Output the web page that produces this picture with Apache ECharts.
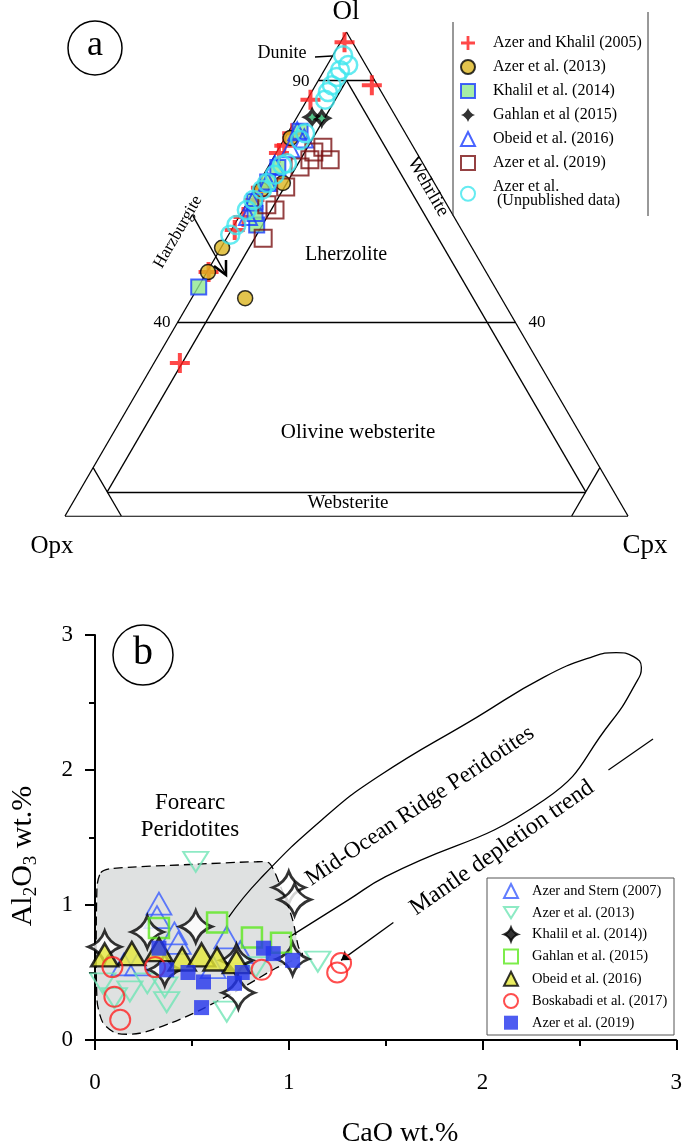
<!DOCTYPE html>
<html><head><meta charset="utf-8">
<script src="https://cdn.jsdelivr.net/npm/echarts@6/dist/echarts.min.js"></script>
<style>html,body{margin:0;padding:0;background:#fff}#c{width:685px;height:1147px}</style>
</head><body><div id="c"></div>
<script>
// ---------- Panel a : modal compositions [Ol %, Cpx %] (Opx = 100 - Ol - Cpx)
const azerKhalil2005 = [[97.9,0.7],[89.0,10.0],[86.0,0.6],[79.1,0.8],[76.5,0.7],[75.0,0.5],[67.8,0.9],[65.3,1.0],[61.8,0.8],[59.1,0.6],[50.4,0.3],[31.6,4.6]];
const azer2013a = [[55.4,0.2],[50.4,0.2],[68.8,4.3],[45.0,9.5],[78.1,1.0],[67.4,1.2]];
const khalil2014a = [[47.3,0.1],[60.1,4.0],[72.0,1.8],[69.0,1.5],[65.0,1.2],[62.5,2.5],[79.5,2.0]];
const gahlan2015a = [[82.4,2.7],[82.2,4.5]];
const obeid2016a = [[79.5,1.5],[78.0,3.5],[72.5,1.0],[69.0,1.5],[65.0,0.8],[62.0,1.5],[76.0,2.0]];
const azer2019a = [[76.2,7.7],[73.6,10.3],[73.6,6.7],[72.1,5.7],[75.2,6.6],[63.2,5.7],[64.3,3.7],[57.4,6.5],[68.0,5.2]];
const unpublished = [[95.2,1.8],[93.2,3.7],[92.1,2.8],[90.7,2.9],[89.0,2.9],[87.6,2.9],[86.0,3.2],[79.1,3.1],[77.7,2.9],[72.9,3.0],[72.5,2.3],[70.5,2.0],[68.8,1.5],[67.4,1.3],[65.3,0.8],[63.2,0.7],[60.1,0.4],[58.1,0.3]];
// ternary field boundaries [Ol, Opx, Cpx]
const ternaryBoundaries = [
  [[100,0,0],[0,100,0]],[[0,100,0],[0,0,100]],[[0,0,100],[100,0,0]],
  [[90,10,0],[90,0,10]],[[90,5,5],[5,90,5]],[[90,5,5],[5,5,90]],
  [[40,60,0],[40,0,60]],[[5,90,5],[5,5,90]],[[10,90,0],[0,90,10]],[[10,0,90],[0,10,90]]
];
// ---------- Panel b : [CaO wt.%, Al2O3 wt.%]
const azerStern2007 = [[0.33,1.01],[0.32,0.91],[0.41,0.79],[0.43,0.72],[0.68,0.76],[0.75,0.65],[0.22,0.56],[0.61,0.54],[0.15,0.56]];
const azer2013b = [[0.52,1.32],[0.04,0.42],[0.10,0.31],[0.18,0.36],[0.27,0.42],[0.36,0.39],[0.37,0.28],[0.68,0.21],[0.83,0.54],[1.15,0.58]];
const khalil2014b = [[0.05,0.69],[0.27,0.80],[0.52,0.84],[1.00,1.13],[1.03,1.04],[1.02,0.60],[0.74,0.35],[0.36,0.52],[0.73,0.59]];
const gahlan2015b = [[0.33,0.83],[0.63,0.87],[0.81,0.76],[0.96,0.72]];
const obeid2016b = [[0.19,0.64],[0.33,0.67],[0.45,0.60],[0.55,0.63],[0.63,0.60],[0.05,0.63],[0.73,0.58]];
const boskabadi2017 = [[0.09,0.54],[0.10,0.32],[0.13,0.15],[0.31,0.54],[0.86,0.52],[1.25,0.50],[1.27,0.57]];
const azer2019b = [[0.33,0.68],[0.48,0.50],[0.56,0.43],[0.55,0.24],[0.72,0.42],[0.76,0.50],[0.87,0.68],[0.92,0.64],[1.02,0.59],[0.37,0.52]];
// field outlines
const forearcField = [[0.03,1.24],[0.08,1.27],[0.49,1.30],[0.83,1.32],[0.90,1.31],[0.96,1.13],[1.02,0.89],[1.05,0.69],[1.07,0.63],[0.93,0.53],[0.74,0.37],[0.54,0.22],[0.40,0.13],[0.23,0.05],[0.11,0.05],[0.04,0.13],[0.01,0.30],[0.01,1.13]];
const morField = [[0.69,0.91],[0.85,1.19],[1.17,1.63],[1.46,1.95],[1.97,2.39],[2.32,2.69],[2.57,2.84],[2.69,2.87],[2.78,2.84],[2.82,2.76],[2.79,2.64],[2.66,2.35],[2.32,1.78],[1.50,1.21],[1.31,1.04],[1.00,0.76]];
const depletionTrend = [[[2.65,2.00],[2.88,2.23]],[[1.54,0.87],[1.27,0.59]]];
const xTicks = [0,1,2,3], yTicks = [0,1,2,3];

const S = Math.sqrt(3)/2;
const tern = (ol, cpx) => [cpx/100 + ol/200, ol/100*S];
const T = arr => arr.map(p => tern(p[0], p[1]));
const SERIF = 'Liberation Serif';
const STAR = 'path://M0,-10 Q2.6,-2.6 10,0 Q2.6,2.6 0,10 Q-2.6,2.6 -10,0 Q-2.6,-2.6 0,-10 Z';
const PLUS = 'path://M-2,-10 H2 V-2 H10 V2 H2 V10 H-2 V2 H-10 V-2 H-2 Z';
const DOWN_TRI = 'path://M-10,0 L10,0 L0,16 Z';

function sc(name, data, gi, symbol, size, style, extra){
  return Object.assign({type:'scatter', name, xAxisIndex:gi, yAxisIndex:gi, data, symbol, symbolSize:size, itemStyle:style, z:5, silent:true}, extra||{});
}

const series = [
  {type:'lines', coordinateSystem:'cartesian2d', xAxisIndex:0, yAxisIndex:0, polyline:false, silent:true, z:2,
   lineStyle:{color:'#000', width:1.3, opacity:1},
   data: ternaryBoundaries.map(s => ({coords: s.map(p => tern(p[0], p[2]))}))},
  sc('a:Azer and Khalil (2005)', T(azerKhalil2005), 0, PLUS, 20, {color:'#ff1a1a'}),
  sc('a:Azer et al. (2013)', T(azer2013a), 0, 'circle', 15, {color:'#dcb520', borderColor:'#000', borderWidth:1.5}),
  sc('a:Khalil et al. (2014)', T(khalil2014a), 0, 'rect', 15, {color:'#90e890', borderColor:'#1a3cff', borderWidth:2}),
  sc('a:Gahlan et al (2015)', T(gahlan2015a), 0, STAR, 22, {color:'#000'}),
  sc('gahlanCentre', T(gahlan2015a), 0, STAR, 8, {color:'#5ce8a0'}, {z:6}),
  sc('a:Obeid et al. (2016)', T(obeid2016a), 0, 'triangle', 18, {color:'transparent', borderColor:'#1a3cff', borderWidth:2}),
  sc('a:Azer et al. (2019)', T(azer2019a), 0, 'rect', 17, {color:'transparent', borderColor:'#7b1113', borderWidth:2}),
  sc('a:Azer et al.\n (Unpublished data)', T(unpublished), 0, 'circle', 18, {color:'transparent', borderColor:'#3fe6ee', borderWidth:2.5}),
  // panel b
  {type:'custom', xAxisIndex:1, yAxisIndex:1, silent:true, z:1, data:[[0,0]],
   renderItem:(params, api) => ({type:'polygon', shape:{points: forearcField.map(p => api.coord(p)), smooth:0.25},
     style:{fill:'#dfe1e1', stroke:'#000', lineWidth:1.3, lineDash:[9,5]}})},
  {type:'line', xAxisIndex:1, yAxisIndex:1, data:morField, smooth:0.5, symbol:'none', silent:true, z:2,
   lineStyle:{color:'#000', width:1.3}},
  {type:'lines', coordinateSystem:'cartesian2d', xAxisIndex:1, yAxisIndex:1, silent:true, z:2,
   lineStyle:{color:'#000', width:1.3, opacity:1},
   data:[{coords:depletionTrend[0]}, {coords:depletionTrend[1], symbol:['none','arrow'], symbolSize:9}]},
  sc('b:Azer and Stern (2007)', azerStern2007, 1, 'triangle', [25,22], {color:'transparent', borderColor:'#3a5cff', borderWidth:1.8}),
  sc('b:Azer et al. (2013)', azer2013b, 1, DOWN_TRI, [25,20], {color:'transparent', borderColor:'#70e5b5', borderWidth:2}),
  sc('b:Khalil et al. (2014))', khalil2014b, 1, STAR, 32, {color:'#fff', borderColor:'#000', borderWidth:2.8}),
  sc('b:Gahlan et al. (2015)', gahlan2015b, 1, 'rect', 20, {color:'transparent', borderColor:'#5ce81e', borderWidth:2.5}),
  sc('b:Obeid et al. (2016)', obeid2016b, 1, 'triangle', [27,23], {color:'#e5e83a', borderColor:'#000', borderWidth:2.5}),
  sc('b:Boskabadi et al. (2017)', boskabadi2017, 1, 'circle', 20, {color:'transparent', borderColor:'#ff2222', borderWidth:2}),
  sc('b:Azer et al. (2019)', azer2019b, 1, 'rect', 15, {color:'#2233ee'})
];

const legA = series.filter(s => s.name && s.name.startsWith('a:')).map(s => s.name);
const legB = series.filter(s => s.name && s.name.startsWith('b:')).map(s => s.name)
  .map(n => n === 'b:Khalil et al. (2014))' ? {name:n, itemStyle:{color:'#000', borderColor:'#000'}} : n);
const fmt = n => n.slice(2);

const axisCommon = {
  axisLine:{show:true, lineStyle:{color:'#000', width:2}},
  axisTick:{show:true, inside:false, length:10, lineStyle:{color:'#000', width:2}},
  minorTick:{show:true, splitNumber:2, length:6, lineStyle:{color:'#000', width:2}},
  splitLine:{show:false}, minorSplitLine:{show:false}
};

const txt = (x, y, text, size, extra) => Object.assign({type:'text', x, y, z:50,
  style:{text, fontFamily:SERIF, fontSize:size, fill:'#000', align:'center', verticalAlign:'middle'}}, extra||{});

const option = {
  animation:false,
  backgroundColor:'#fff',
  grid:[{left:65, top:32, width:563, height:484}, {left:95, top:635, width:585, height:405}],
  xAxis:[
    {gridIndex:0, type:'value', min:0, max:1, show:false},
    Object.assign({gridIndex:1, type:'value', min:0, max:3, interval:1,
      axisLabel:{fontFamily:SERIF, fontSize:23, color:'#000', margin:31, formatter: v => xTicks.includes(v) ? String(v) : ''}}, axisCommon)
  ],
  yAxis:[
    {gridIndex:0, type:'value', min:0, max:S, show:false},
    Object.assign({gridIndex:1, type:'value', min:0, max:3, interval:1,
      axisLabel:{fontFamily:SERIF, fontSize:23, color:'#000', margin:22, formatter: v => yTicks.includes(v) ? String(v) : ''}}, axisCommon)
  ],
  legend:[
    {data:legA, formatter:fmt, orient:'vertical', left:460, top:35, itemWidth:14, itemHeight:14, itemGap:8, padding:0,
     textStyle:{fontFamily:SERIF, fontSize:16, color:'#000', lineHeight:13.5, padding:[0,0,0,13]}, selectedMode:false},
    {data:legB, formatter:fmt, orient:'vertical', left:503, top:883, itemWidth:14, itemHeight:14, itemGap:6.2, padding:0, z:20,
     textStyle:{fontFamily:SERIF, fontSize:14.5, color:'#000', lineHeight:14, padding:[0,0,0,9]}, selectedMode:false}
  ],
  graphic:[
    {type:'line', shape:{x1:453, y1:22, x2:453, y2:216}, style:{stroke:'#333', lineWidth:1}, z:50},
    {type:'line', shape:{x1:648, y1:12, x2:648, y2:216}, style:{stroke:'#333', lineWidth:1}, z:50},
    {type:'circle', shape:{cx:95, cy:48, r:27}, style:{fill:'#fff', stroke:'#000', lineWidth:1.5}, z:50},
    txt(95, 46, 'a', 36),
    txt(346, 12, 'Ol', 27),
    txt(52, 546, 'Opx', 25),
    txt(645, 546, 'Cpx', 27),
    txt(282, 53, 'Dunite', 18),
    {type:'line', shape:{x1:315, y1:57, x2:332, y2:56}, style:{stroke:'#000', lineWidth:1.3}, z:50},
    txt(301, 82, '90', 17),
    txt(162, 323, '40', 17),
    txt(537, 323, '40', 17),
    txt(428, 187, 'Wehrlite', 19, {rotation:-Math.PI/3}),
    txt(178, 232, 'Harzburgite', 17, {rotation:Math.PI/3}),
    {type:'line', shape:{x1:193, y1:216, x2:225, y2:273}, style:{stroke:'#000', lineWidth:1.5}, z:50},
    {type:'polyline', shape:{points:[[214,266],[226,275],[226,260]]}, style:{stroke:'#000', lineWidth:2.5, fill:null}, z:50},
    txt(346, 255, 'Lherzolite', 20),
    txt(358, 432, 'Olivine websterite', 21),
    txt(348, 503, 'Websterite', 19),
    {type:'circle', shape:{cx:143, cy:655, r:30}, style:{fill:'#fff', stroke:'#000', lineWidth:1.5}, z:50},
    txt(143, 653, 'b', 40),
    {type:'text', x:190, y:816, z:50, style:{text:'Forearc\nPeridotites', fontFamily:SERIF, fontSize:23, fill:'#000', align:'center', verticalAlign:'middle', lineHeight:27}},
    txt(420, 806, 'Mid-Ocean Ridge Peridotites', 23, {rotation:0.59}),
    txt(502, 848, 'Mantle depletion trend', 24, {rotation:0.61}),
    txt(400, 1134, 'CaO wt.%', 28),
    {type:'text', x:23, y:856, rotation:Math.PI/2, z:50,
     style:{text:'{n|Al}{s|2}{n|O}{s|3}{n| wt.%}', align:'center', verticalAlign:'middle',
       rich:{n:{fontFamily:SERIF, fontSize:30, fill:'#000', lineHeight:36},
             s:{fontFamily:SERIF, fontSize:19, fill:'#000', lineHeight:19, verticalAlign:'bottom'}}}},
    {type:'rect', shape:{x:487, y:878, width:187, height:157}, style:{fill:'#fff', stroke:'#555', lineWidth:1}, z:10}
  ],
  series
};
const chart = echarts.init(document.getElementById('c'), null, {renderer:'canvas'});
chart.setOption(option);
</script></body></html>
